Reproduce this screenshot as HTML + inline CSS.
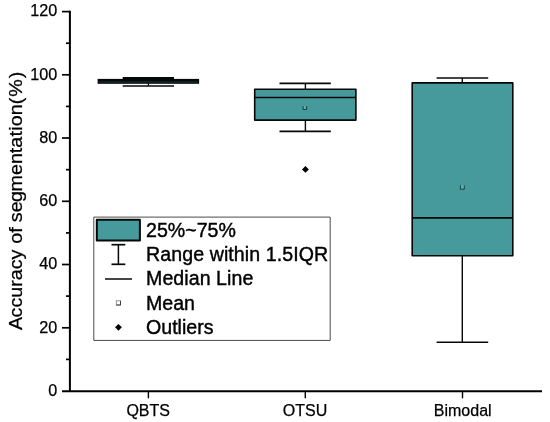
<!DOCTYPE html>
<html>
<head>
<meta charset="utf-8">
<title>Accuracy of segmentation box plot</title>
<style>
html,body{margin:0;padding:0;background:#fff;}
body{width:550px;height:422px;overflow:hidden;}
svg{display:block;}
text{font-family:"Liberation Sans",Arial,sans-serif;fill:#000;stroke:#000;stroke-width:0.25px;}
.lg text{stroke-width:0.4px;}
</style>
</head>
<body>
<svg width="550" height="422" viewBox="0 0 550 422">
<rect width="550" height="422" fill="#fff"/>

<!-- boxes -->
<g stroke="#060808" stroke-width="1.6" fill="#469a9b" stroke-linejoin="round">
  <!-- QBTS -->
  <line x1="148.4" y1="77.9" x2="148.4" y2="85.8" stroke-width="1.3"/>
  <line x1="122.7" y1="77.9" x2="174" y2="77.9" stroke-width="2"/>
  <line x1="122.7" y1="86" x2="174" y2="86" stroke-width="1.5"/>
  <rect x="97.6" y="78.9" width="101.5" height="4.9" fill="#050808" stroke="none"/>
  <line x1="99" y1="82" x2="197.7" y2="82" stroke="#1f4343" stroke-width="0.8"/>
  <!-- OTSU -->
  <line x1="305.4" y1="83.4" x2="305.4" y2="131.4" stroke-width="1.4"/>
  <line x1="279.5" y1="83.4" x2="330.8" y2="83.4" stroke-width="1.6"/>
  <line x1="279.5" y1="131.4" x2="330.8" y2="131.4" stroke-width="1.6"/>
  <rect x="254.7" y="89.3" width="101.2" height="30.8"/>
  <line x1="254.7" y1="97.5" x2="355.9" y2="97.5" stroke-width="1.6"/>
  <!-- Bimodal -->
  <line x1="462.3" y1="78" x2="462.3" y2="342.2" stroke-width="1.4"/>
  <line x1="436.6" y1="78" x2="488.2" y2="78" stroke-width="1.7"/>
  <line x1="436.6" y1="342.2" x2="488.2" y2="342.2" stroke-width="1.6"/>
  <rect x="412.2" y="82.9" width="100.6" height="172.9"/>
  <line x1="412.2" y1="217.9" x2="512.8" y2="217.9" stroke-width="1.6"/>
</g>
<!-- mean markers -->
<g fill="#62b0ae" stroke="#0b4542" stroke-width="1">
  <path d="M303.1 106 V109.5 H306.6 V106"/>
  <path d="M460.4 185.3 V189.2 H464.3 V185.3"/>
</g>
<!-- outlier -->
<path d="M305.45 165.95 L308.9 169.4 L305.45 172.85 L302 169.4 Z" fill="#000"/>

<!-- axes -->
<g stroke="#000" stroke-width="2" fill="none">
  <line x1="69.9" y1="10.7" x2="69.9" y2="392"/>
  <line x1="62" y1="391.15" x2="542" y2="391.15"/>
</g>
<g stroke="#000" stroke-width="1.7">
  <line x1="62" y1="11.6" x2="70" y2="11.6"/>
  <line x1="62" y1="74.8" x2="70" y2="74.8"/>
  <line x1="62" y1="138.0" x2="70" y2="138.0"/>
  <line x1="62" y1="201.3" x2="70" y2="201.3"/>
  <line x1="62" y1="264.5" x2="70" y2="264.5"/>
  <line x1="62" y1="327.8" x2="70" y2="327.8"/>
  <line x1="66" y1="43.2" x2="70" y2="43.2"/>
  <line x1="66" y1="106.4" x2="70" y2="106.4"/>
  <line x1="66" y1="169.7" x2="70" y2="169.7"/>
  <line x1="66" y1="232.9" x2="70" y2="232.9"/>
  <line x1="66" y1="296.1" x2="70" y2="296.1"/>
  <line x1="66" y1="359.4" x2="70" y2="359.4"/>
  <line x1="148.4" y1="391" x2="148.4" y2="398.3" stroke-width="1.4"/>
  <line x1="305.3" y1="391" x2="305.3" y2="398.3" stroke-width="1.4"/>
  <line x1="462.5" y1="391" x2="462.5" y2="398.3" stroke-width="1.4"/>
</g>
<!-- y tick labels -->
<g font-size="16.2" text-anchor="end">
  <text x="57.3" y="16.4">120</text>
  <text x="57.3" y="79.6">100</text>
  <text x="57.3" y="142.8">80</text>
  <text x="57.3" y="206.1">60</text>
  <text x="57.3" y="269.4">40</text>
  <text x="57.3" y="332.6">20</text>
  <text x="57.3" y="395.8">0</text>
</g>
<!-- x tick labels -->
<g font-size="16" text-anchor="middle">
  <text x="148.2" y="416">QBTS</text>
  <text x="305" y="416">OTSU</text>
  <text x="462.7" y="416">Bimodal</text>
</g>
<!-- y axis title -->
<text font-size="18.8" transform="translate(21.9 201.3) rotate(-90) scale(1.048 1)" x="-122.74">A<tspan dx="-0.6">ccuracy </tspan><tspan dx="0.3">of </tspan><tspan dx="-0.3">se</tspan><tspan dx="-0.7">g</tspan><tspan dx="-0.3">menta</tspan><tspan dx="0.2">t</tspan><tspan dx="0.2">i</tspan><tspan dx="0.2">o</tspan><tspan dx="0.1">n(</tspan><tspan dx="0.9">%</tspan><tspan dx="0.9">)</tspan></text>

<!-- legend -->
<rect x="93.8" y="217.1" width="236.4" height="123.3" fill="#fff" stroke="#4a4a4a" stroke-width="1" stroke-linejoin="round"/>
<rect x="96.8" y="219.7" width="43.1" height="20.9" fill="#469a9b" stroke="#060808" stroke-width="2" stroke-linejoin="round"/>
<g stroke="#060808" stroke-width="1.7">
  <line x1="118.4" y1="244.7" x2="118.4" y2="264.3" stroke-width="1.5"/>
  <line x1="111.5" y1="244.7" x2="125.3" y2="244.7"/>
  <line x1="111.5" y1="264.3" x2="125.3" y2="264.3"/>
  <line x1="105" y1="279" x2="132" y2="279" stroke-width="1.5"/>
</g>
<rect x="116.3" y="300.8" width="4.2" height="4.2" fill="#fff" stroke="#8a8a8a" stroke-width="0.9"/>
<path d="M120.5 300.8 V305 H116.3" fill="none" stroke="#333" stroke-width="0.9"/>
<path d="M118.45 323.9 L121.85 327.3 L118.45 330.7 L115.05 327.3 Z" fill="#000"/>
<g font-size="19.6" class="lg">
  <text transform="translate(146 236.5) scale(1 1.06)">25%~75%</text>
  <text transform="translate(146 260.6) scale(1 1.06)" letter-spacing="0.08">Range within 1.5IQR</text>
  <text transform="translate(146 284.8) scale(1 1.06)" letter-spacing="0.06">Median Line</text>
  <text transform="translate(146 309.6) scale(1 1.06)">Mean</text>
  <text transform="translate(146 334.3) scale(1 1.06)">Outliers</text>
</g>
</svg>
</body>
</html>
